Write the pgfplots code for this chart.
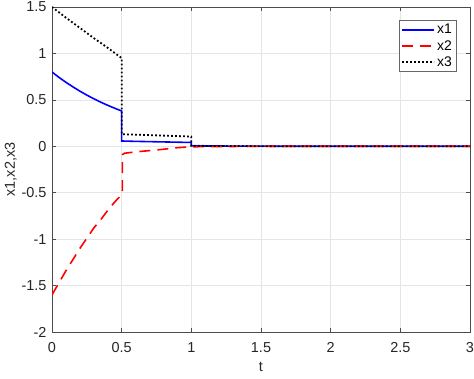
\documentclass[border=0pt]{standalone}
\usepackage{pgfplots}
\pgfplotsset{compat=1.18}
\usepackage{fontspec}
\setmainfont{Liberation Sans}
\begin{document}
\begin{tikzpicture}
\begin{axis}[
  scale only axis,
  width=418bp, height=325bp,
  xmin=0, xmax=3, ymin=-2, ymax=1.5,
  xtick={0,0.5,1,1.5,2,2.5,3},
  ytick={-2,-1.5,-1,-0.5,0,0.5,1,1.5},
  xticklabels={0,0.5,1,1.5,2,2.5,3},
  yticklabels={-2,-1.5,-1,-0.5,0,0.5,1,1.5},
  grid=major,
  grid style={gray!20, line width=0.6pt},
  axis line style={black!70, line width=0.8pt},
  tick style={black!70, line width=0.6pt},
  tick align=inside,
  major tick length=4bp,
  ticklabel style={font=\fontsize{14.5}{15}\selectfont, text=black!85},
  xticklabel style={yshift=-7bp},
  yticklabel style={xshift=-2bp},
  xlabel={t}, ylabel={x1,x2,x3},
  label style={font=\fontsize{14.5}{15}\selectfont, text=black!85},
  xlabel style={yshift=-3bp},
  ylabel style={yshift=-2bp},
  legend style={at={(0.967,0.96)}, anchor=north east, font=\fontsize{14}{15}\selectfont,
    draw=black!60, line width=0.5pt, inner xsep=2pt, inner ysep=2pt, row sep=1pt},
  legend cell align=left,
  legend image code/.code={\draw[#1] (0bp,0bp) -- (32bp,0bp);},
]
\addplot[blue, line width=1.6pt] coordinates {
(0,0.8)(0.05,0.742)(0.1,0.689)(0.15,0.640)(0.2,0.594)(0.25,0.551)(0.3,0.512)(0.35,0.475)(0.4,0.441)(0.45,0.410)(0.5,0.38)
(0.5,0.057)(0.6,0.053)(0.7,0.050)(0.8,0.047)(0.9,0.044)(1.0,0.041)
(1.0,0.004)(1.5,0.001)(2,0)(3,0)};
\addlegendentry{x1}
\addplot[red, line width=1.6pt, dash pattern=on 11bp off 7bp] coordinates {
(0,-1.6)(0.05,-1.47)(0.1,-1.34)(0.15,-1.22)(0.2,-1.10)(0.25,-0.99)(0.3,-0.88)(0.35,-0.79)(0.4,-0.69)(0.45,-0.60)(0.5,-0.52)
(0.505,-0.47)(0.505,-0.09)(0.52,-0.075)(0.6,-0.06)(0.75,-0.04)(0.9,-0.015)(1.0,-0.005)(1.5,0)(3,0)};
\addlegendentry{x2}
\addplot[black, line width=1.8pt, dash pattern=on 1.8bp off 2.2bp] coordinates {
(0,1.5)(0.1,1.385)(0.2,1.275)(0.3,1.165)(0.4,1.06)(0.5,0.95)
(0.5,0.13)(0.6,0.125)(0.7,0.12)(0.8,0.115)(0.9,0.11)(1.0,0.105)
(1.0,0.005)(1.5,0.001)(3,0)};
\addlegendentry{x3}
\end{axis}
\pgfresetboundingbox
\path ([shift={(-52bp,-47bp)}]current axis.south west) rectangle ([shift={(4bp,7bp)}]current axis.north east);
\end{tikzpicture}
\end{document}
